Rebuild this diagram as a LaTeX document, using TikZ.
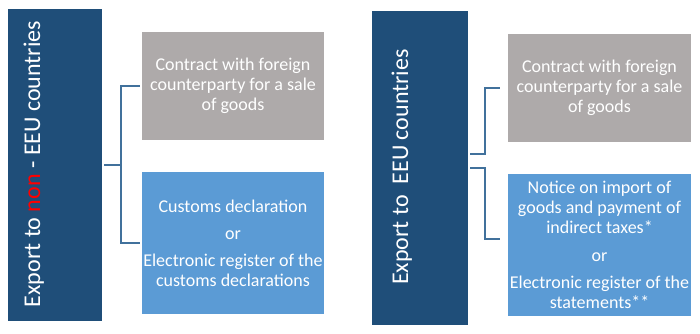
\documentclass[tikz,border=0pt]{standalone}
\usepackage{fontspec}
\setmainfont{Carlito}
\definecolor{darkblue}{HTML}{1F4E79}
\definecolor{lightblue}{HTML}{5B9BD5}
\definecolor{greybox}{HTML}{AEAAAA}
\definecolor{linkblue}{HTML}{41719C}
\begin{document}
\begin{tikzpicture}[x=1pt, y=1pt,
    box/.style={inner sep=0pt, outer sep=0pt, text=white, align=center,
      font=\fontsize{18}{20}\selectfont},
    sidebox/.style={box, fill=darkblue},
    greyitem/.style={box, fill=greybox, minimum width=182, minimum height=108},
    blueitem/.style={box, fill=lightblue, minimum width=182, minimum height=142},
    vtext/.style={rotate=90, anchor=base, inner sep=0pt, text=white,
      font=\fontsize{24}{28}\selectfont},
    conn/.style={draw=linkblue, line width=1.8pt}]
    \useasboundingbox (0,0) rectangle (700,333);

    % left: export to non-EEU countries
    \node[sidebox, minimum width=94, minimum height=312] (ex1) at (55,168) {};
    \node[vtext] (lab1) at (40,169) {Export to \textcolor{red}{non} - EEU countries};
    \node[greyitem] (con1) at (233,247)
      {Contract with foreign\\ counterparty for a sale\\ of goods};
    \node[blueitem] (doc1) at (233,90)
      {Customs declaration\\[7pt] or\\[7pt] Electronic register of the\\ customs declarations};

    % bracket
    \draw[conn] ([xshift=2pt]ex1.east) -- ++(17,0) |- ([xshift=-2pt]con1.west);
    \draw[conn] ([xshift=2pt]ex1.east) -- ++(17,0) |- ([xshift=-2pt]doc1.west);

    % right: export to EEU countries
    \node[sidebox, minimum width=96, minimum height=314] (ex2) at (420,165) {};
    \node[vtext] (lab2) at (408,166) {Export to\ \ EEU countries};
    \node[greyitem, minimum width=183] (con2) at (599.5,245)
      {Contract with foreign\\ counterparty for a sale\\ of goods};
    \node[blueitem, minimum width=183] (doc2) at (599.5,88)
      {Notice on import of\\ goods and payment of\\ indirect taxes*\\[8pt] or\\[7pt]
       Electronic register of the\\ statements**};

    % two brackets
    \draw[conn] ([xshift=2pt, yshift=14pt]ex2.east) -- ++(15,0) |- ([xshift=-8pt]con2.west);
    \draw[conn] ([xshift=2pt]ex2.east) -- ++(15,0) |- ([xshift=-8pt, yshift=6pt]doc2.west);
\end{tikzpicture}
\end{document}
